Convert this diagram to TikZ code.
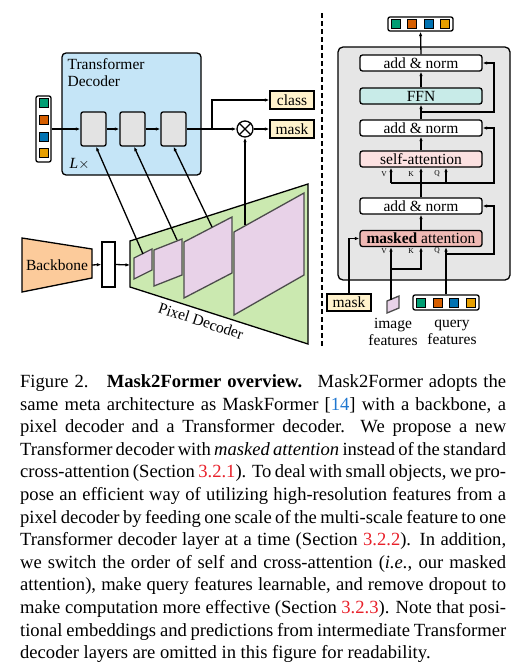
\documentclass[tikz,border=0pt]{standalone}
\usepackage{fontspec}
\setmainfont{Liberation Serif}
\usepackage{tikz}
\usetikzlibrary{arrows.meta, positioning}

\definecolor{tdblue}{HTML}{C5E5F7}
\definecolor{blockgray}{HTML}{E3E3E3}
\definecolor{panelgray}{HTML}{E6E6E6}
\definecolor{outyellow}{HTML}{FFF2CC}
\definecolor{pixgreen}{HTML}{CBE9B0}
\definecolor{featpink}{HTML}{E8D2E8}
\definecolor{bbgorange}{HTML}{FCCB9B}
\definecolor{ffnteal}{HTML}{C8EBE8}
\definecolor{sapink}{HTML}{FCE1E1}
\definecolor{mapink}{HTML}{EFB9B4}
\definecolor{tokgreen}{HTML}{009E73}
\definecolor{tokred}{HTML}{D55E00}
\definecolor{tokblue}{HTML}{0072B2}
\definecolor{tokorange}{HTML}{E69F00}
\definecolor{citeblue}{HTML}{1F77D0}
\definecolor{refred}{HTML}{E8202A}
\newcommand{\diagfont}{\fontsize{15.5}{17}\selectfont}

\begin{document}
\begin{tikzpicture}[x=1pt, y=-1pt, line width=1.3pt,
  arr/.style={-{Latex[length=4.5pt,width=3.5pt]}},
  tok/.style={draw, rectangle, minimum size=9pt, inner sep=0pt, line width=0.7pt},
  tokbar/.style={draw, rectangle, rounded corners=2pt, fill=white, inner sep=0pt, line width=1.3pt},
  gblock/.style={draw, rectangle, rounded corners=2pt, fill=blockgray, minimum width=25pt, minimum height=34pt, inner sep=0pt},
  outbox/.style={draw, rectangle, fill=outyellow, minimum width=44pt, minimum height=18pt, inner sep=0pt, font=\diagfont},
  layerbox/.style={draw, rectangle, rounded corners=2.5pt, minimum width=122pt, minimum height=16pt, inner sep=0pt, font=\diagfont},
  vkq/.style={font=\fontsize{7.5}{8}\selectfont, inner sep=0pt}]
\useasboundingbox (0,0) rectangle (529,672);

% left: transformer decoder
\node[draw, rectangle, rounded corners=4pt, fill=tdblue, minimum width=139pt, minimum height=122pt] (tdec) at (131.5,114) {};
\node[anchor=north west, align=left, font=\diagfont, inner sep=0pt] (tdtitle) at (67,58) {Transformer\\Decoder};
\node[anchor=west, font=\diagfont, inner sep=0pt] (lx) at (69,164) {\textit{L}$\times$};
\node[tokbar, minimum width=15pt, minimum height=66pt] (qleft) at (43.5,129) {};
\foreach \c [count=\i] in {tokgreen,tokred,tokblue,tokorange}
  \node[tok, fill=\c] (ql\i) at (43.5,{103+16.7*(\i-1)}) {};
\node[gblock] (b1) at (93.5,129) {};
\node[gblock] (b2) at (132.5,129) {};
\node[gblock] (b3) at (173.5,129) {};
\node[draw, circle, minimum size=16pt, inner sep=0pt] (otimes) at (245,129) {};
\draw (otimes.north west) -- (otimes.south east) (otimes.north east) -- (otimes.south west);
\node[outbox] (cls) at (292,100) {class};
\node[outbox] (mskout) at (292,129) {mask};
\coordinate (sp) at (212,129);
\draw[arr] (qleft.east) -- (b1.west);
\draw[arr] (b1.east) -- (b2.west);
\draw[arr] (b2.east) -- (b3.west);
\draw (b3.east) -- (sp);
\draw[arr] (sp) |- (cls.west);
\draw[arr] (sp) -- (otimes.west);
\draw[arr] (otimes.east) -- (mskout.west);

% left: backbone and pixel decoder
\draw[fill=bbgorange] (22,238) -- (92,249) -- (92,278) -- (22,292) -- cycle;
\node[font=\diagfont] (bb) at (57,265) {Backbone};
\coordinate (bbout) at (92,265);
\node[draw, rectangle, fill=white, minimum width=13pt, minimum height=45pt, inner sep=0pt] (neck) at (108.5,264.5) {};
\draw[fill=pixgreen] (130,241) -- (308,184) -- (308,344) -- (130,287) -- cycle;
\coordinate (pdin) at (130,265);
\draw[arr] (bbout) -- (neck.west);
\draw[arr] (neck.east) -- (pdin);
\draw[fill=featpink, draw=black!70] (134,258) -- (152,249) -- (152,270) -- (134,279) -- cycle;
\draw[fill=featpink, draw=black!70] (154,250) -- (182,239) -- (182,275) -- (154,286) -- cycle;
\draw[fill=featpink, draw=black!70] (184,242) -- (232,217) -- (232,273) -- (184,298) -- cycle;
\draw[fill=featpink, draw=black!70] (234,232) -- (304,193) -- (304,275) -- (234,315) -- cycle;
\node[font=\diagfont, rotate=-18] (pdtext) at (201,321) {Pixel Decoder};
\coordinate (f1) at (143,254);
\coordinate (f2) at (177,240);
\coordinate (f3) at (212,227);
\coordinate (f4) at (245,225);
\draw[arr] (f1) -- ([xshift=2.5pt]b1.south);
\draw[arr] (f2) -- ([xshift=1.5pt]b2.south);
\draw[arr] (f3) -- (b3.south);
\draw[arr] (f4) -- (otimes.south);

\draw[dash pattern=on 5pt off 3pt, line width=1.3pt] (322,13) -- (322,347);

% right: one decoder layer
\node[draw, rectangle, rounded corners=5pt, fill=panelgray, minimum width=172pt, minimum height=233pt] (layer) at (424,163.5) {};
\node[tokbar, minimum width=65pt, minimum height=14pt] (outq) at (420.5,24) {};
\foreach \c [count=\i] in {tokgreen,tokred,tokblue,tokorange}
  \node[tok, fill=\c] (oq\i) at ({396+16.3*(\i-1)},24) {};
\node[layerbox, fill=white] (an1) at (421,63) {add \& norm};
\node[layerbox, fill=ffnteal] (ffn) at (421,96) {FFN};
\node[layerbox, fill=white] (an2) at (421,128) {add \& norm};
\node[layerbox, fill=sapink] (sa) at (421,159) {self-attention};
\node[layerbox, fill=white] (an3) at (421,206) {add \& norm};
\node[layerbox, fill=mapink] (ma) at (421,238.5) {\textbf{masked} attention};
\coordinate (rx) at (494,0);
\draw[arr] (an1.north) -- (outq.south);
\draw[arr] (ffn.north) -- (an1.south);
\draw[arr] (an2.north) -- (ffn.south);
\coordinate (r1) at (421,112);
\draw[arr] (r1) -- (r1 -| rx) |- (an1.east);
\draw[arr] (sa.north) -- (an2.south);
\coordinate (vin1) at (391,183);
\coordinate (qin1) at (446,183);
\draw[arr] (an3.north) -- (sa.south);
\draw[arr] (vin1) -- (vin1 |- sa.south);
\draw[arr] (qin1) -- (qin1 |- sa.south);
\draw[arr] (vin1) -- (vin1 -| rx) |- (an2.east);
\node[vkq] (sv) at (384,174) {V};
\node[vkq] (sk) at (411,174) {K};
\node[vkq] (sq) at (437,174) {Q};
\draw[arr] (ma.north) -- (an3.south);

% right: inputs
\node[outbox, minimum height=17pt] (maskin) at (349,302.5) {mask};
\draw[fill=featpink, draw=black!70] (387,301) -- (399,296) -- (399,308) -- (387,313) -- cycle;
\coordinate (imgf) at (391,300);
\node[tokbar, minimum width=66pt, minimum height=15pt] (qfeat) at (446,302.5) {};
\foreach \c [count=\i] in {tokgreen,tokred,tokblue,tokorange}
  \node[tok, fill=\c] (qf\i) at ({421+16.6*(\i-1)},302.5) {};
\node[font=\diagfont, align=center, inner sep=0pt] (imglbl) at (393,332) {image\\features};
\node[font=\diagfont, align=center, inner sep=0pt] (qlbl) at (452,332) {query\\features};
\coordinate (kb) at (391,269);
\coordinate (qb) at (446,254);
\draw[arr] (imgf) -- (imgf |- ma.south);
\draw[arr] (kb) -| (ma.south);
\draw[arr] (qfeat.north) -- (qfeat.north |- ma.south);
\draw[arr] (qb) -- (qb -| rx) |- (an3.east);
\draw[arr] (maskin.north) |- (ma.west);
\node[vkq] (mv) at (384,251) {V};
\node[vkq] (mk) at (411,251) {K};
\node[vkq] (mq) at (437,251) {Q};

% caption
\node[anchor=north west, text width=486pt, align=justify, inner sep=0pt,
  font=\fontsize{18.6}{22.6}\selectfont] (cap) at (19.5,374) {Figure 2.\hspace{0.45em} \textbf{Mask2Former overview.}\hspace{0.3em} Mask2Former adopts the same meta architecture as MaskFormer [\textcolor{citeblue}{14}] with a backbone, a pixel decoder and a Transformer decoder. We propose a new Transformer decoder with \textit{masked attention} instead of the standard cross-attention (Section~\textcolor{refred}{3.2.1}). To deal with small objects, we propose an efficient way of utilizing high-resolution features from a pixel decoder by feeding one scale of the multi-scale feature to one Transformer decoder layer at a time (Section~\textcolor{refred}{3.2.2}). In addition, we switch the order of self and cross-attention (\textit{i.e.}, our masked attention), make query features learnable, and remove dropout to make computation more effective (Section~\textcolor{refred}{3.2.3}). Note that positional embeddings and predictions from intermediate Transformer decoder layers are omitted in this figure for readability.};
\end{tikzpicture}
\end{document}
